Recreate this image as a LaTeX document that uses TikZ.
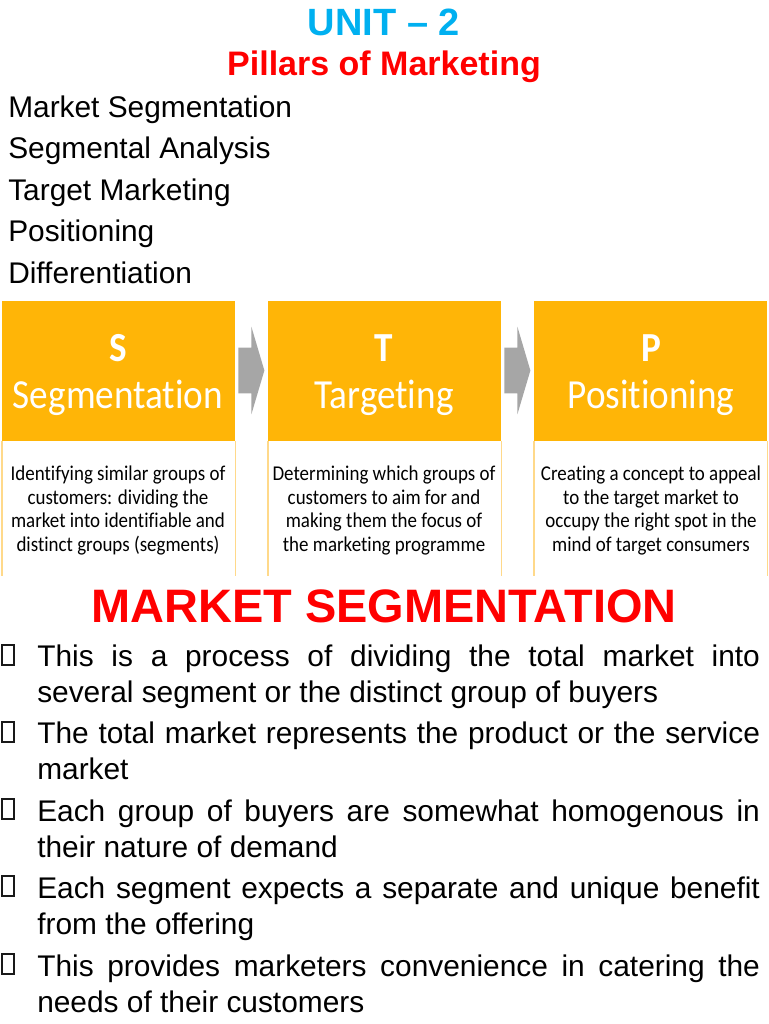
\documentclass[tikz,border=0pt]{standalone}
\usepackage{fontspec}
\setmainfont{Liberation Sans}
\newfontfamily\boxfont[Ligatures=NoCommon,FakeStretch=0.9]{Carlito}
\usetikzlibrary{shapes.arrows}
\definecolor{unitblue}{HTML}{00B0F0}
\definecolor{boxorange}{HTML}{FFB507}
\definecolor{boxedge}{HTML}{FFD98A}
\definecolor{arrowgray}{HTML}{A6A6A6}
\tikzset{
  heading/.style={anchor=base,inner sep=0pt,text=red,font=\bfseries\fontsize{25.5}{30}\selectfont},
  listline/.style={anchor=base west,inner sep=0pt,font=\fontsize{22.4}{26}\selectfont},
  topbox/.style={anchor=north west,inner sep=0pt,fill=boxorange,minimum width=174.75pt,minimum height=105pt},
  lowbox/.style={anchor=north west,inner sep=0pt,minimum width=174.75pt,minimum height=100.5pt},
  boxtitle/.style={anchor=base,inner sep=0pt,text=white,font=\boxfont\fontsize{31}{35}\selectfont},
  boxletter/.style={boxtitle,font=\boxfont\bfseries\fontsize{31}{35}\selectfont},
  boxtext/.style={anchor=north,inner sep=0pt,align=center,font=\boxfont\fontsize{15.8}{17.8}\selectfont},
  grayarrow/.style={single arrow,draw=none,fill=arrowgray,inner sep=0pt,minimum height=19.5pt,
    single arrow head extend=15.75pt,single arrow tip angle=147},
  tofu/.style={draw=black!90,line width=0.8pt,inner sep=0pt,minimum width=9pt,minimum height=15pt},
  bodyitem/.style={anchor=north west,inner sep=0pt,text width=542pt,align=justify,
    font=\fontsize{22.4}{27}\selectfont}
}
\begin{document}
\begin{tikzpicture}[x=0.75pt,y=-0.75pt]
  \useasboundingbox (0,0) rectangle (768,1024);
  % headings
  \node[heading,text=unitblue,font=\bfseries\fontsize{28.5}{34}\selectfont] (unit) at (384,36) {UNIT -- 2};
  \node[heading] (pillars) at (384,75) {Pillars of Marketing};
  \begin{scope}[every node/.style={listline}]
    \node (l1) at (8,117.5) {Market Segmentation};
    \node (l2) at (8,158.5) {Segmental Analysis};
    \node (l3) at (8,200) {Target Marketing};
    \node (l4) at (8,241.5) {Positioning};
    \node (l5) at (8,283) {Differentiation};
  \end{scope}
  % boxes
  \node[topbox] (stop) at (2,301) {};
  \node[topbox] (ttop) at (268,301) {};
  \node[topbox] (ptop) at (534,301) {};
  \node[lowbox] (slow) at (2,441) {};
  \node[lowbox] (tlow) at (268,441) {};
  \node[lowbox] (plow) at (534,441) {};
  \foreach \b in {slow,tlow,plow}{
    \draw[boxedge,line width=0.9pt] (\b.north west) -- (\b.south west);
    \draw[boxedge,line width=0.9pt] (\b.north east) -- (\b.south east);
  }
  \node[grayarrow] (ar1) at (248,370.5) {\rule{0pt}{33.75pt}};
  \node[grayarrow] (ar2) at (514,370.5) {\rule{0pt}{33.75pt}};
  \node[boxletter] (s) at (118,361) {S};
  \node[boxletter] (t) at (384,361) {T};
  \node[boxletter] (p) at (651,361) {P};
  \node[boxtitle] (sname) at (118,408) {Segmentation};
  \node[boxtitle] (tname) at (384,408) {Targeting};
  \node[boxtitle] (pname) at (651,408) {Positioning};
  \node[boxtext] (stext) at (118,465.5) {Identifying similar groups of\\customers: dividing the\\market into identifiable and\\distinct groups (segments)};
  \node[boxtext] (ttext) at (384,465.5) {Determining which groups of\\customers to aim for and\\making them the focus of\\the marketing programme};
  \node[boxtext] (ptext) at (651,465.5) {Creating a concept to appeal\\to the target market to\\occupy the right spot in the\\mind of target consumers};
  % market segmentation
  \node[heading,font=\bfseries\fontsize{35.2}{42}\selectfont] (ms) at (384,622) {MARKET SEGMENTATION};
  \node[bodyitem] (i1) at (37,644.5) {This is a process of dividing the total market into\linebreak several segment or the distinct group of buyers};
  \node[bodyitem] (i2) at (37,722) {The total market represents the product or the service\linebreak market};
  \node[bodyitem] (i3) at (37,799.5) {Each group of buyers are somewhat homogenous in\linebreak their nature of demand};
  \node[bodyitem] (i4) at (37,877) {Each segment expects a separate and unique benefit\linebreak from the offering};
  \node[bodyitem] (i5) at (37,954.5) {This provides marketers convenience in catering the\linebreak needs of their customers};
  \node[tofu] (b1) at (8,655) {};
  \node[tofu] (b2) at (8,732) {};
  \node[tofu] (b3) at (8,809) {};
  \node[tofu] (b4) at (8,886) {};
  \node[tofu] (b5) at (8,964) {};
\end{tikzpicture}
\end{document}
